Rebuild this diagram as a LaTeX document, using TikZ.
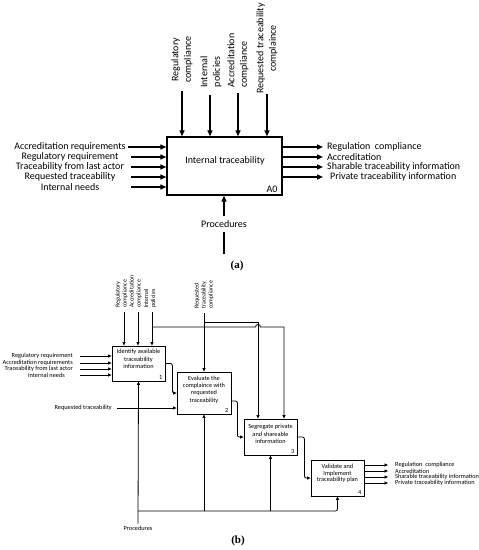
\documentclass[tikz,border=0pt]{standalone}
\usepackage{fontspec}
\setmainfont{Carlito}
\newfontfamily\capfont{Liberation Serif}
\usetikzlibrary{arrows.meta}

\begin{document}
\begin{tikzpicture}[
  x=1pt, y=-1pt,
  big box/.style={draw, line width=1.4pt, inner sep=0pt},
  big line/.style={draw, line width=1.4pt},
  big arrow/.style={draw, line width=1.4pt, -{Triangle[length=6pt,width=5pt]}},
  big text/.style={inner sep=0pt, font=\fontsize{10}{9.8}\selectfont},
  top label/.style={inner sep=0pt, rotate=90, anchor=west, font=\fontsize{10}{12.5}\selectfont},
  step box/.style={draw, line width=0.8pt, inner sep=0pt, minimum width=53pt},
  small arrow/.style={draw, line width=0.8pt, -{Triangle[length=3.5pt,width=3pt]}},
  small text/.style={inner sep=0pt, font=\fontsize{6.3}{7.3}\selectfont, align=center},
  small label/.style={inner sep=0pt, rotate=90, anchor=west, align=left, font=\fontsize{6}{7}\selectfont},
  caption/.style={inner sep=0pt, font=\capfont\bfseries\fontsize{11}{11}\selectfont}
]
\useasboundingbox (0,0) rectangle (479,550);

% (a) context diagram
\node[big box, minimum width=115pt, minimum height=58pt] (A0) at (224.5,166) {};
\node[big text] (A0t) at (225,161) {Internal traceability};
\node[big text, anchor=south east] (A0n) at ([xshift=-5pt,yshift=2.5pt]A0.south east) {A0};

% controls
\node[top label, align=center] (ct1) at (182,83) {Regulatory\\compliance};
\node[top label, align=center] (ct2) at (211,88) {Internal\\policies};
\node[top label, align=left] (ct3) at (238,88) {Accreditation\\compliance};
\node[top label, align=center] (ct4) at (267,94) {Requested traceability\\complaince};
\coordinate (cs1) at (182,91);
\coordinate (cs2) at (210,95);
\coordinate (cs3) at (238,93);
\coordinate (cs4) at (267,94);
\foreach \n in {1,...,4}
  \path[big arrow] (cs\n) -- (cs\n |- A0.north);

% inputs
\foreach \n/\y/\x/\t in {1/147/128/Accreditation requirements,
                         2/157/131/Regulatory requirement,
                         3/167/131/Traceability from last actor,
                         4/177/131/Requested traceability,
                         5/187/131/Internal needs} {
  \node[big text] (ai\n) at (70,\y) {\t};
  \coordinate (ais\n) at (\x,\y);
  \path[big arrow] (ais\n) -- (ais\n -| A0.west);
}

% outputs
\foreach \n/\y/\x/\t in {1/147/327/Regulation~ compliance,
                         2/157/327/Accreditation,
                         3/167/327/Sharable traceability information,
                         4/177/330/Private traceability information} {
  \node[big text, anchor=west] (ao\n) at (\x,\y) {\t};
  \path[big arrow] (A0.east |- ao\n.west) -- (323,\y);
}

% mechanism
\node[big text, inner sep=4pt] (pa) at (224,224) {Procedures};
\coordinate (pae) at (224,254);
\path[big line] (pae) -- (pa.south);
\path[big arrow] (pa.north) -- (pa.north |- A0.south);

\node[caption] (capa) at (237,266) {(a)};

% (b) decomposition
\node[step box, minimum height=35pt] (b1) at (138.5,363.5) {};
\node[step box, minimum width=54pt, minimum height=42pt] (b2) at (204,393) {};
\node[step box, minimum height=36pt] (b3) at (270.5,437) {};
\node[step box, minimum height=36pt] (b4) at (337.5,478) {};
\node[small text] (b1t) at (138.5,359) {Identify available\\traceability\\information};
\node[small text] (b2t) at (204,389.5) {Evaluate the\\complaince with\\requested\\traceability};
\node[small text] (b3t) at (270.5,434) {Segregate private\\and shareable\\information};
\node[small text, font=\fontsize{6.3}{6.7}\selectfont] (b4t) at (337.5,473.5) {Validate and\\Implement\\traceability plan};
\foreach \n in {1,...,4}
  \node[small text, anchor=south east] (b\n n) at ([xshift=-3pt,yshift=1.5pt]b\n.south east) {\n};

% controls of the steps
\node[small label] (r1) at (121.5,308) {Regulatory\\compliance};
\node[small label] (r2) at (135.5,308) {Accreditation\\compliance};
\node[small label] (r3) at (150,308) {Internal\\policies};
\node[small label] (r4) at (204,309) {Requested\\traceability\\compliance};
\coordinate (rc1) at (124,312);
\coordinate (rc2) at (138,312);
\coordinate (rc3) at (152,312);
\coordinate (rc4) at (204,313);
\foreach \n in {1,2,3}
  \path[small arrow] (rc\n) -- (rc\n |- b1.north);
\path[small arrow] (rc4) -- (b2.north);
\path[small arrow] (rc4 |- 0,322) -| (b3.north -| 258,0);
\path[small arrow] (rc3 |- 0,327) -- (255.5,327) arc[start angle=180, end angle=0, radius=2.5pt]
  -- (284,327) -- (b3.north -| 284,0);

% inputs of the steps
\foreach \n/\y/\x/\t in {1/356/73/Regulatory requirement,
                         2/363/73/Accreditation requirements,
                         3/369/73/Traceability from last actor,
                         4/375/65/Internal needs} {
  \node[small text, anchor=east] (li\n) at (\x,\y) {\t};
  \coordinate (lis\n) at (80,\y);
  \path[small arrow] (lis\n) -- (lis\n -| b1.west);
}
\node[small text, anchor=east] (rt) at (112,408) {Requested traceability};
\coordinate (rts) at (117,408);
\path[small arrow] (rts) -- (rts -| b2.west);

% flow between the steps
\path[small arrow, rounded corners=2pt] (b1.east) -- ++(7,0) |- (b2.west);
\path[small arrow, rounded corners=2pt] ([yshift=-8pt]b2.east) -- ++(6,0) |- (b3.west);
\path[small arrow, rounded corners=2pt] (b3.east) -- ++(7,0) |- (b4.west);

% outputs of the steps
\foreach \n/\y/\t in {1/465/Regulation~ compliance,
                      2/471/Accreditation,
                      3/477/Sharable traceability information,
                      4/483/Private traceability information} {
  \node[small text, anchor=west] (lo\n) at (395,\y) {\t};
  \path[small arrow] (b4.east |- lo\n.west) -- ([xshift=-7pt]lo\n.west);
}

% mechanism of the steps
\node[small text, inner sep=2pt] (pb) at (138,528) {Procedures};
\path[small arrow] (pb.north) -- (b1.south);
\path[small arrow, rounded corners=2pt] (pb.north |- 0,511) -| (b4.south);
\path[small arrow] (b2.south |- 0,511) -- (b2.south);
\path[small arrow] (b3.south |- 0,511) -- (b3.south);

\node[caption] (capb) at (238,541) {(b)};
\end{tikzpicture}
\end{document}
